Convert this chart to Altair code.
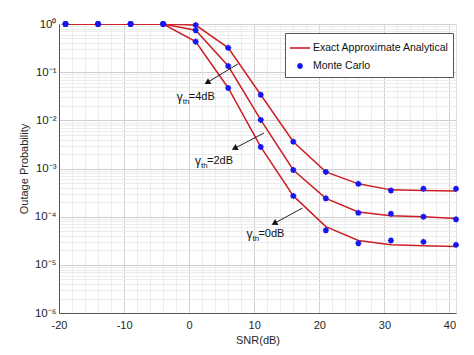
import altair as alt
import pandas as pd

snr = [-19, -14, -9, -4, 1, 6, 11, 16, 21, 26, 31, 36, 41]
thresholds = ["4dB", "2dB", "0dB"]

analytical_4 = [1, 1, 1, 1, 0.95, 0.32, 0.034, 0.0036, 8.5e-4, 4.8e-4, 3.6e-4, 3.5e-4, 3.4e-4]
analytical_2 = [1, 1, 1, 1, 0.74, 0.134, 0.0102, 9.3e-4, 2.4e-4, 1.25e-4, 1.05e-4, 1.0e-4, 9.2e-5]
analytical_0 = [1, 1, 1, 1, 0.43, 0.047, 0.0028, 2.7e-4, 6.2e-5, 3.2e-5, 2.6e-5, 2.5e-5, 2.4e-5]

mc_4 = [1, 1, 1, 1, 0.95, 0.32, 0.034, 0.0036, 8.5e-4, 4.8e-4, 3.5e-4, 3.8e-4, 3.8e-4]
mc_2 = [1, 1, 1, 1, 0.74, 0.134, 0.0102, 9.3e-4, 2.4e-4, 1.2e-4, 1.15e-4, 1.0e-4, 8.8e-5]
mc_0 = [1, 1, 1, 1, 0.43, 0.047, 0.0028, 2.7e-4, 5.2e-5, 2.8e-5, 3.2e-5, 3.0e-5, 2.6e-5]

legend_labels = ["Exact Approximate Analytical", "Monte Carlo"]

# annotation arrows (data coordinates)
arrow_x1 = [7.5, 11.5, 17.4]
arrow_y1 = [0.148, 0.00546, 1.51e-4]
arrow_x2 = [2.9, 7.1, 13.2]
arrow_y2 = [0.0625, 0.00267, 7.4e-5]
arrow_angle = [239, 243, 241]
label_x = [-1.9, 0.9, 8.8]
label_y = [0.031, 0.00145, 4.4e-5]
label_text = ["=4dB", "=2dB", "=0dB"]

RED = "#cc1f24"
BLUE = "#1515f0"
FONT = "Liberation Sans"

rows_a, rows_m = [], []
for th, a, m in zip(thresholds, [analytical_4, analytical_2, analytical_0], [mc_4, mc_2, mc_0]):
    for s, va, vm in zip(snr, a, m):
        rows_a.append({"snr": s, "p": va, "th": th})
        rows_m.append({"snr": s, "p": vm, "th": th, "series": "Monte Carlo"})
df_a = pd.DataFrame(rows_a)
df_m = pd.DataFrame(rows_m)
df_arrow = pd.DataFrame({"x1": arrow_x1, "y1": arrow_y1, "x2": arrow_x2, "y2": arrow_y2, "angle": arrow_angle})
df_lab = pd.DataFrame({"x": label_x, "y": label_y, "t": label_text})

x_vals = [float(v) for v in range(-20, 41, 2)]
y_vals = []
for e in range(-6, 1):
    for k in range(1, 10):
        v = k * 10.0 ** e
        if v <= 1.0000001:
            y_vals.append(float(f"{v:.10g}"))

sup_expr = (
    "(round(log(datum.value)/LN10)==0?'10⁰':"
    "round(log(datum.value)/LN10)==-1?'10⁻¹':"
    "round(log(datum.value)/LN10)==-2?'10⁻²':"
    "round(log(datum.value)/LN10)==-3?'10⁻³':"
    "round(log(datum.value)/LN10)==-4?'10⁻⁴':"
    "round(log(datum.value)/LN10)==-5?'10⁻⁵':'10⁻⁶')"
)
is_major_y = "abs(log(datum.value)/LN10 - round(log(datum.value)/LN10)) < 0.001"
is_major_x = "abs(datum.value/10 - round(datum.value/10)) < 0.001"

x_scale = alt.Scale(domain=[-20, 41], nice=False, zero=False)
y_scale = alt.Scale(type="log", domain=[1e-6, 1], nice=False)

x_axis = alt.Axis(
    values=x_vals,
    labelExpr=f"{is_major_x} ? toString(round(datum.value)) : ''",
    labelOverlap=False,
    title="SNR(dB)",
    ticks=False,
    grid=True,
    gridColor={"condition": {"test": is_major_x, "value": "#d0d0d0"}, "value": "#ececec"},
    labelFontSize=11,
    titleFontSize=11,
    titleFontWeight="normal",
    labelColor="#262626",
    titleColor="#262626",
    labelPadding=6,
    titlePadding=4,
    domain=True,
    domainColor="#555555",
    labelFlush=False,
)
y_axis = alt.Axis(
    values=y_vals,
    labelExpr=f"{is_major_y} ? {sup_expr} : ''",
    labelOverlap=False,
    title="Outage Probability",
    ticks=False,
    grid=True,
    gridColor={"condition": {"test": is_major_y, "value": "#d0d0d0"}, "value": "#ececec"},
    labelFontSize=11.5,
    titleFontSize=11,
    titleFontWeight="normal",
    labelColor="#262626",
    titleColor="#262626",
    labelPadding=3,
    titlePadding=5,
    domain=True,
    domainColor="#555555",
)


def X(field):
    return alt.X(field, scale=x_scale, axis=x_axis, title="SNR(dB)")


def Y(field):
    return alt.Y(field, scale=y_scale, axis=y_axis, title="Outage Probability")


lines = alt.Chart(df_a).mark_line(color=RED, strokeWidth=1.5, clip=True).encode(
    x=X("snr:Q"), y=Y("p:Q"), detail="th:N"
)

leg = alt.Legend(
    title=None,
    orient="none",
    legendX=226,
    legendY=9,
    fillColor="white",
    strokeColor="#555555",
    padding=4,
    labelFontSize=10.5,
    labelFont=FONT,
    labelColor="#111111",
    symbolSize=400,
    symbolStrokeWidth=1.6,
    rowPadding=1,
    labelOffset=2,
    labelLimit=300,
)

asterisk = "M-0.3,0H0.3M0,-0.3V0.3M-0.21,-0.21L0.21,0.21M-0.21,0.21L0.21,-0.21"
points = alt.Chart(df_m).mark_point(filled=False, strokeWidth=1.6, size=400, opacity=1, clip=False).encode(
    x=X("snr:Q"),
    y=Y("p:Q"),
    color=alt.Color(
        "series:N",
        scale=alt.Scale(domain=legend_labels, range=[RED, BLUE]),
        legend=leg,
    ),
    shape=alt.Shape(
        "series:N",
        scale=alt.Scale(domain=legend_labels, range=["M-1,0H1", asterisk]),
        legend=leg,
    ),
)

arrows = alt.Chart(df_arrow).mark_rule(color="#222222", strokeWidth=1).encode(
    x=X("x1:Q"), y=Y("y1:Q"), x2="x2:Q", y2="y2:Q"
)
heads = alt.Chart(df_arrow).mark_point(shape="triangle", filled=True, color="#111111", size=45, opacity=1).encode(
    x=X("x2:Q"), y=Y("y2:Q"), angle=alt.Angle("angle:Q", scale=None)
)
gamma = alt.Chart(df_lab).mark_text(text="γ", align="left", baseline="middle", fontSize=12, font=FONT, color="#111111").encode(
    x=X("x:Q"), y=Y("y:Q")
)
sub = alt.Chart(df_lab).mark_text(text="th", align="left", baseline="middle", fontSize=8, font=FONT, dx=6, dy=5, color="#111111").encode(
    x=X("x:Q"), y=Y("y:Q")
)
rest = alt.Chart(df_lab).mark_text(align="left", baseline="middle", fontSize=11, font=FONT, dx=12, color="#111111").encode(
    x=X("x:Q"), y=Y("y:Q"), text="t:N"
)

chart = (
    alt.layer(lines, points, arrows, heads, gamma, sub, rest)
    .properties(
        width=397,
        height=289,
        autosize=alt.AutoSizeParams(type="none"),
        padding={"left": 51, "top": 16, "right": 10, "bottom": 34},
        background="white",
    )
    .configure_view(stroke="#555555", strokeWidth=1)
    .configure(font=FONT)
)

chart.save("out.html", embed_options={"renderer": "svg", "actions": False})
